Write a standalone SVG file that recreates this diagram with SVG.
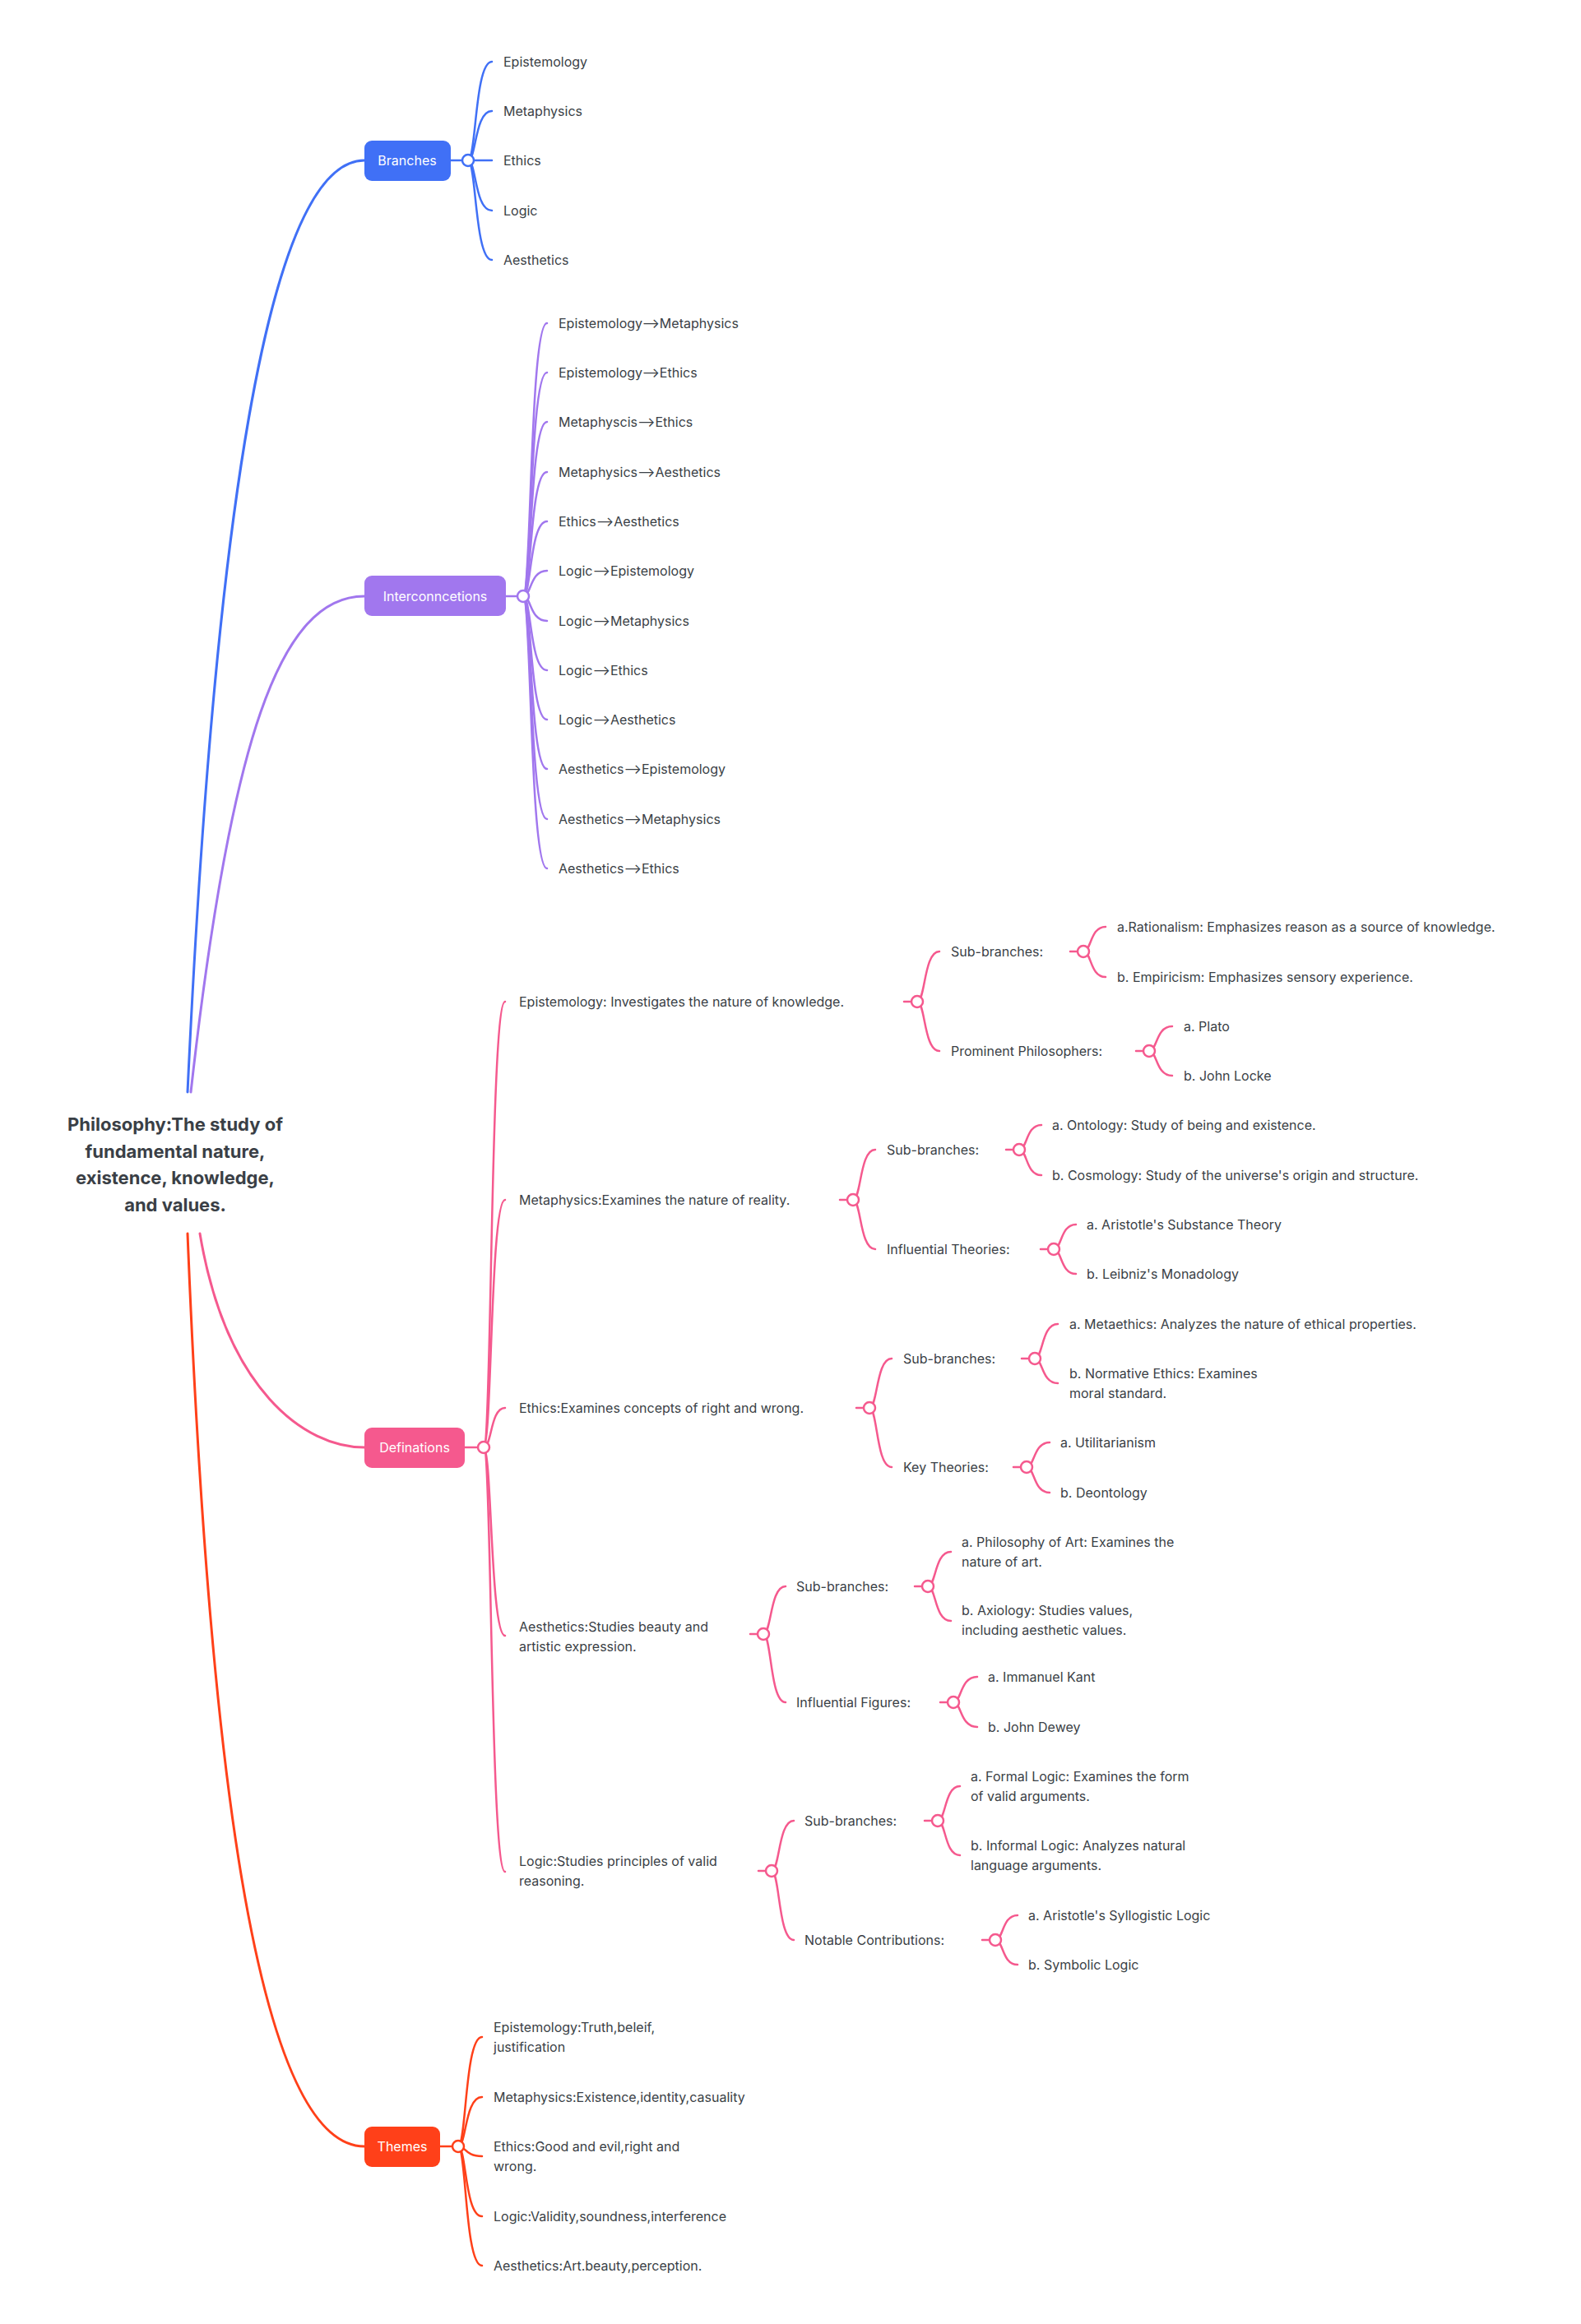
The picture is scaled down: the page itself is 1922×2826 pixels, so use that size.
<svg xmlns="http://www.w3.org/2000/svg" width="1922" height="2826" viewBox="0 0 1922 2826">
<style>
text{font-family:Inter,"Noto Sans","Liberation Sans",sans-serif;font-size:16px;fill:#3a3f46;dominant-baseline:central}
.root{font-size:22px;font-weight:bold;text-anchor:middle}
.bt{fill:#fff;text-anchor:middle}
path{fill:none;stroke-width:2.5;stroke-linecap:round}
.m{stroke-width:3}
.b{stroke:#4070f6}.p{stroke:#a177ee}.k{stroke:#f5598e}.r{stroke:#ff4019}
circle{fill:#fff;stroke-width:2.5}
</style>
<rect width="1922" height="2826" fill="#fff"/>
<g id="connectors">
<path class="b m" d="M228 1328 C262 600 330 195 443 195"/>
<path class="p m" d="M232 1328 C280 900 340 725 443 725"/>
<path class="k m" d="M243 1500 C275 1690 370 1760 443 1760"/>
<path class="r m" d="M228 1500 C250 2050 300 2610 443 2610"/>
<g class="b">
<path d="M548 195 H562"/>
<path d="M569 195 C579 195 577 75 598 75"/><path d="M569 195 C579 195 577 135 598 135"/><path d="M576 195 H598"/><path d="M569 195 C579 195 577 256 598 256"/><path d="M569 195 C579 195 577 316 598 316"/>
</g>
<g class="p">
<path d="M615 725 H629"/>
<path d="M636 725 C646 725 644 393 665 393"/><path d="M636 725 C646 725 644 453 665 453"/><path d="M636 725 C646 725 644 513 665 513"/><path d="M636 725 C646 725 644 574 665 574"/><path d="M636 725 C646 725 644 634 665 634"/><path d="M636 725 C646 725 644 694 665 694"/><path d="M636 725 C646 725 644 755 665 755"/><path d="M636 725 C646 725 644 815 665 815"/><path d="M636 725 C646 725 644 875 665 875"/><path d="M636 725 C646 725 644 935 665 935"/><path d="M636 725 C646 725 644 996 665 996"/><path d="M636 725 C646 725 644 1056 665 1056"/>
</g>
<g class="k">
<path d="M565 1760 H581"/>
<path d="M588 1760 C598 1760 596 1218 614 1218"/><path d="M588 1760 C598 1760 596 1459 614 1459"/><path d="M588 1760 C598 1760 596 1712 614 1712"/><path d="M588 1760 C598 1760 596 1989 614 1989"/><path d="M588 1760 C598 1760 596 2276 614 2276"/>
<path d="M1099 1218 H1108"/><path d="M1115 1218 C1125 1218 1123 1157 1142 1157"/><path d="M1115 1218 C1125 1218 1123 1278 1142 1278"/>
<path d="M1301 1157 H1310"/><path d="M1317 1157 C1327 1157 1325 1127 1344 1127"/><path d="M1317 1157 C1327 1157 1325 1188 1344 1188"/>
<path d="M1381 1278 H1390"/><path d="M1397 1278 C1407 1278 1405 1248 1425 1248"/><path d="M1397 1278 C1407 1278 1405 1308 1425 1308"/>
<path d="M1021 1459 H1030"/><path d="M1037 1459 C1047 1459 1045 1398 1064 1398"/><path d="M1037 1459 C1047 1459 1045 1519 1064 1519"/>
<path d="M1223 1398 H1232"/><path d="M1239 1398 C1249 1398 1247 1368 1266 1368"/><path d="M1239 1398 C1249 1398 1247 1429 1266 1429"/>
<path d="M1265 1519 H1274"/><path d="M1281 1519 C1291 1519 1289 1489 1308 1489"/><path d="M1281 1519 C1291 1519 1289 1549 1308 1549"/>
<path d="M1041 1712 H1050"/><path d="M1057 1712 C1067 1712 1065 1652 1084 1652"/><path d="M1057 1712 C1067 1712 1065 1784 1084 1784"/>
<path d="M1242 1652 H1251"/><path d="M1258 1652 C1268 1652 1266 1610 1286 1610"/><path d="M1258 1652 C1268 1652 1266 1682 1286 1682"/>
<path d="M1232 1784 H1241"/><path d="M1248 1784 C1258 1784 1256 1754 1276 1754"/><path d="M1248 1784 C1258 1784 1256 1815 1276 1815"/>
<path d="M912 1987 H921"/><path d="M928 1987 C938 1987 936 1929 955 1929"/><path d="M928 1987 C938 1987 936 2070 955 2070"/>
<path d="M1112 1929 H1121"/><path d="M1128 1929 C1138 1929 1136 1887 1156 1887"/><path d="M1128 1929 C1138 1929 1136 1971 1156 1971"/>
<path d="M1143 2070 H1152"/><path d="M1159 2070 C1169 2070 1167 2039 1188 2039"/><path d="M1159 2070 C1169 2070 1167 2100 1188 2100"/>
<path d="M922 2275 H931"/><path d="M938 2275 C948 2275 946 2214 965 2214"/><path d="M938 2275 C948 2275 946 2359 965 2359"/>
<path d="M1124 2214 H1133"/><path d="M1140 2214 C1150 2214 1148 2172 1167 2172"/><path d="M1140 2214 C1150 2214 1148 2256 1167 2256"/>
<path d="M1194 2359 H1203"/><path d="M1210 2359 C1220 2359 1218 2329 1237 2329"/><path d="M1210 2359 C1220 2359 1218 2389 1237 2389"/>
</g>
<g class="r">
<path d="M535 2610 H550"/>
<path d="M557 2610 C567 2610 565 2477 586 2477"/><path d="M557 2610 C567 2610 565 2550 586 2550"/><path d="M557 2610 C567 2610 565 2622 586 2622"/><path d="M557 2610 C567 2610 565 2695 586 2695"/><path d="M557 2610 C567 2610 565 2755 586 2755"/>
</g>
<g class="k">
<circle cx="588" cy="1760" r="7" stroke="#f5598e"/><circle cx="1115" cy="1218" r="7" stroke="#f5598e"/><circle cx="1317" cy="1157" r="7" stroke="#f5598e"/><circle cx="1397" cy="1278" r="7" stroke="#f5598e"/><circle cx="1037" cy="1459" r="7" stroke="#f5598e"/><circle cx="1239" cy="1398" r="7" stroke="#f5598e"/><circle cx="1281" cy="1519" r="7" stroke="#f5598e"/><circle cx="1057" cy="1712" r="7" stroke="#f5598e"/><circle cx="1258" cy="1652" r="7" stroke="#f5598e"/><circle cx="1248" cy="1784" r="7" stroke="#f5598e"/><circle cx="928" cy="1987" r="7" stroke="#f5598e"/><circle cx="1128" cy="1929" r="7" stroke="#f5598e"/><circle cx="1159" cy="2070" r="7" stroke="#f5598e"/><circle cx="938" cy="2275" r="7" stroke="#f5598e"/><circle cx="1140" cy="2214" r="7" stroke="#f5598e"/><circle cx="1210" cy="2359" r="7" stroke="#f5598e"/>
</g>
<circle cx="569" cy="195" r="7" stroke="#4070f6"/>
<circle cx="636" cy="725" r="7" stroke="#a177ee"/>
<circle cx="557" cy="2610" r="7" stroke="#ff4019"/>
</g>
<g id="root"><text class="root" x="213" y="1367">Philosophy:The study of</text><text class="root" x="213" y="1400">fundamental nature,</text><text class="root" x="213" y="1432">existence, knowledge,</text><text class="root" x="213" y="1465">and values.</text></g>
<g id="branches"><rect x="443" y="171" width="105" height="49" rx="9" fill="#4070f6"/><text class="bt" x="495" y="195">Branches</text></g>
<g id="branches-children"><text x="612" y="75">Epistemology</text><text x="612" y="135">Metaphysics</text><text x="612" y="195">Ethics</text><text x="612" y="256">Logic</text><text x="612" y="316">Aesthetics</text></g>
<g id="interconnections"><rect x="443" y="700" width="172" height="49" rx="9" fill="#a177ee"/><text class="bt" x="529" y="725">Interconncetions</text></g>
<g id="interconnections-children">
<text x="679" y="393">Epistemology--&gt;Metaphysics</text><text x="679" y="453">Epistemology--&gt;Ethics</text><text x="679" y="513">Metaphyscis--&gt;Ethics</text><text x="679" y="574">Metaphysics--&gt;Aesthetics</text><text x="679" y="634">Ethics--&gt;Aesthetics</text><text x="679" y="694">Logic--&gt;Epistemology</text><text x="679" y="755">Logic--&gt;Metaphysics</text><text x="679" y="815">Logic--&gt;Ethics</text><text x="679" y="875">Logic--&gt;Aesthetics</text><text x="679" y="935">Aesthetics--&gt;Epistemology</text><text x="679" y="996">Aesthetics--&gt;Metaphysics</text><text x="679" y="1056">Aesthetics--&gt;Ethics</text>
</g>
<g id="definations"><rect x="443" y="1736" width="122" height="49" rx="9" fill="#f5598e"/><text class="bt" x="504" y="1760">Definations</text></g>
<g id="def-epistemology"><text x="631" y="1218">Epistemology: Investigates the nature of knowledge.</text><text x="1156" y="1157">Sub-branches:</text><text x="1358" y="1127">a.Rationalism: Emphasizes reason as a source of knowledge.</text><text x="1358" y="1188">b. Empiricism: Emphasizes sensory experience.</text><text x="1156" y="1278">Prominent Philosophers:</text><text x="1439" y="1248">a. Plato</text><text x="1439" y="1308">b. John Locke</text></g>
<g id="def-metaphysics"><text x="631" y="1459">Metaphysics:Examines the nature of reality.</text><text x="1078" y="1398">Sub-branches:</text><text x="1279" y="1368">a. Ontology: Study of being and existence.</text><text x="1279" y="1429">b. Cosmology: Study of the universe's origin and structure.</text><text x="1078" y="1519">Influential Theories:</text><text x="1321" y="1489">a. Aristotle's Substance Theory</text><text x="1321" y="1549">b. Leibniz's Monadology</text></g>
<g id="def-ethics"><text x="631" y="1712">Ethics:Examines concepts of right and wrong.</text><text x="1098" y="1652">Sub-branches:</text><text x="1300" y="1610">a. Metaethics: Analyzes the nature of ethical properties.</text><text x="1300" y="1670">b. Normative Ethics: Examines</text><text x="1300" y="1694">moral standard.</text><text x="1098" y="1784">Key Theories:</text><text x="1289" y="1754">a. Utilitarianism</text><text x="1289" y="1815">b. Deontology</text></g>
<g id="def-aesthetics"><text x="631" y="1978">Aesthetics:Studies beauty and</text><text x="631" y="2002">artistic expression.</text><text x="968" y="1929">Sub-branches:</text><text x="1169" y="1875">a. Philosophy of Art: Examines the</text><text x="1169" y="1899">nature of art.</text><text x="1169" y="1958">b. Axiology: Studies values,</text><text x="1169" y="1982">including aesthetic values.</text><text x="968" y="2070">Influential Figures:</text><text x="1201" y="2039">a. Immanuel Kant</text><text x="1201" y="2100">b. John Dewey</text></g>
<g id="def-logic"><text x="631" y="2263">Logic:Studies principles of valid</text><text x="631" y="2287">reasoning.</text><text x="978" y="2214">Sub-branches:</text><text x="1180" y="2160">a. Formal Logic: Examines the form</text><text x="1180" y="2184">of valid arguments.</text><text x="1180" y="2244">b. Informal Logic: Analyzes natural</text><text x="1180" y="2268">language arguments.</text><text x="978" y="2359">Notable Contributions:</text><text x="1250" y="2329">a. Aristotle's Syllogistic Logic</text><text x="1250" y="2389">b. Symbolic Logic</text></g>
<g id="themes"><rect x="443" y="2586" width="92" height="49" rx="9" fill="#ff4019"/><text class="bt" x="489" y="2610">Themes</text></g>
<g id="themes-children"><text x="600" y="2465">Epistemology:Truth,beleif,</text><text x="600" y="2489">justification</text><text x="600" y="2550">Metaphysics:Existence,identity,casuality</text><text x="600" y="2610">Ethics:Good and evil,right and</text><text x="600" y="2634">wrong.</text><text x="600" y="2695">Logic:Validity,soundness,interference</text><text x="600" y="2755">Aesthetics:Art.beauty,perception.</text></g>
</svg>
